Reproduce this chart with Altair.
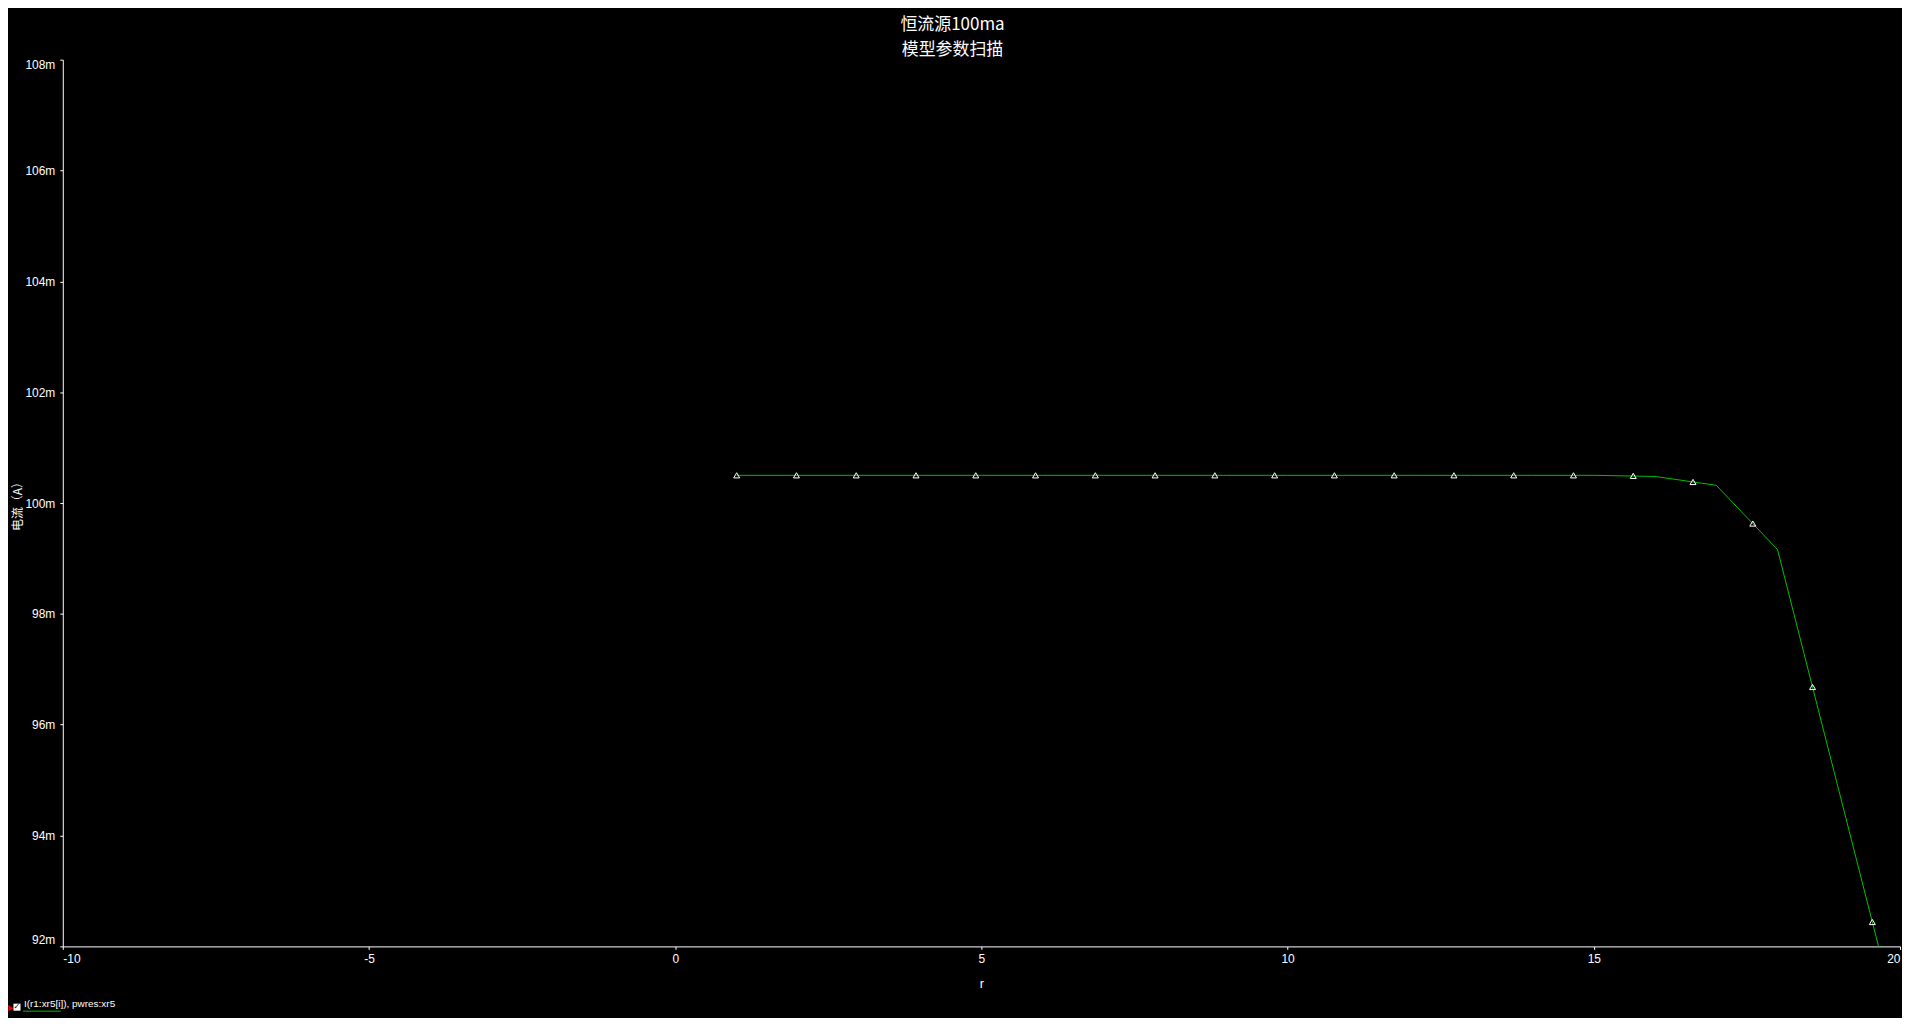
import altair as alt
import pandas as pd

# ---- data ----
r_line = [1, 2, 3, 4, 5, 6, 7, 8, 9, 10, 11, 12, 13, 14, 15, 16, 17, 18, 19, 20]
i_line = [0.10050, 0.10050, 0.10050, 0.10050, 0.10050, 0.10050, 0.10050, 0.10050,
          0.10050, 0.10050, 0.10050, 0.10050, 0.10050, 0.10050, 0.10050, 0.10048,
          0.10032, 0.09916, 0.09482, 0.09048]

r_mark = [1.004, 1.980, 2.956, 3.932, 4.908, 5.884, 6.860, 7.836, 8.812, 9.788,
          10.764, 11.740, 12.716, 13.692, 14.668, 15.644, 16.620, 17.596, 18.572, 19.548]
i_mark = [0.10050, 0.10050, 0.10050, 0.10050, 0.10050, 0.10050, 0.10050, 0.10050,
          0.10050, 0.10050, 0.10050, 0.10050, 0.10050, 0.10050, 0.10050, 0.10049,
          0.10038, 0.09963, 0.09668, 0.09244]

x_ticks = [-10, -5, 0, 5, 10, 15, 20]
y_ticks = [0.092, 0.094, 0.096, 0.098, 0.100, 0.102, 0.104, 0.106, 0.108]

title_lines = ["恒流源100ma", "模型参数扫描"]
x_title = "r"
y_title = "电流（A）"
legend_label = "I(r1:xr5[i]), pwres:xr5"

line_df = pd.DataFrame({"r": r_line, "I": i_line})
mark_df = pd.DataFrame({"r": r_mark, "I": i_mark})
one = pd.DataFrame({"k": [0]})

W, H = 1844, 890
LABEL_FONT = "Liberation Sans"
CJK_FONT = "Noto Sans CJK SC"

x_enc = alt.X(
    "r:Q",
    scale=alt.Scale(domain=[-10, 20], nice=False, zero=False),
    axis=alt.Axis(
        values=x_ticks, title=x_title, grid=False, labelFlush=True,
        labelExpr="datum.value + ''",
        domainColor="white", tickColor="white", tickSize=3, labelPadding=4,
        labelColor="white", labelFont=LABEL_FONT, labelFontSize=12,
        titleColor="white", titleFont=LABEL_FONT, titleFontSize=13,
        titleFontWeight="normal", titleY=41, titleBaseline="alphabetic",
    ),
)
y_enc = alt.Y(
    "I:Q",
    scale=alt.Scale(domain=[0.092, 0.108], nice=False, zero=False),
    axis=alt.Axis(
        values=y_ticks, title=y_title, grid=False, labelFlush=True,
        labelExpr="format(datum.value * 1000, 'd') + 'm'",
        domainColor="white", tickColor="white", tickSize=3, labelPadding=5,
        labelColor="white", labelFont=LABEL_FONT, labelFontSize=12,
        titleColor="white", titleFont=CJK_FONT, titleFontSize=12,
        titleFontWeight="normal", titleAngle=270, titleX=-45, titleY=H / 2,
        titleBaseline="middle", titleAlign="center",
    ),
)

line = alt.Chart(line_df).mark_line(color="#00c000", strokeWidth=1, clip=True).encode(
    x=x_enc, y=y_enc
)
marks = alt.Chart(mark_df).mark_point(
    shape="triangle-up", filled=False, color="white", strokeWidth=1, size=36, opacity=1
).encode(x="r:Q", y="I:Q")

# legend strip at bottom-left
leg_text = alt.Chart(one).mark_text(
    align="left", baseline="alphabetic", font=LABEL_FONT, fontSize=10, color="white"
).encode(x=alt.value(-39), y=alt.value(951), text=alt.value(legend_label))
leg_rule = alt.Chart(one).mark_rule(color="#00c000", strokeWidth=1).encode(
    x=alt.value(-40), x2=alt.value(-2), y=alt.value(955)
)
leg_red = alt.Chart(one).mark_point(
    shape="triangle-right", filled=True, color="#e00000", size=40, opacity=1
).encode(x=alt.value(-52), y=alt.value(952))
leg_box = alt.Chart(one).mark_square(color="white", size=50, opacity=1).encode(
    x=alt.value(-46), y=alt.value(951)
)
leg_check = alt.Chart(one).mark_text(
    font="DejaVu Sans", fontSize=8, color="black", fontWeight="bold"
).encode(x=alt.value(-46), y=alt.value(951), text=alt.value("✓"))

chart = alt.layer(line, marks, leg_text, leg_rule, leg_red, leg_box, leg_check).properties(
    width=W,
    height=H,
    title=alt.TitleParams(
        text=title_lines, anchor="middle", dx=-29, offset=0, color="white",
        font=CJK_FONT, fontSize=17, fontWeight="normal", lineHeight=25,
    ),
    padding={"left": 55, "top": 50, "right": 2, "bottom": 70},
    autosize=alt.AutoSizeParams(type="none"),
).configure(background="black").configure_view(stroke=None)

chart.save("out.html", embed_options={"renderer": "svg", "actions": False})
